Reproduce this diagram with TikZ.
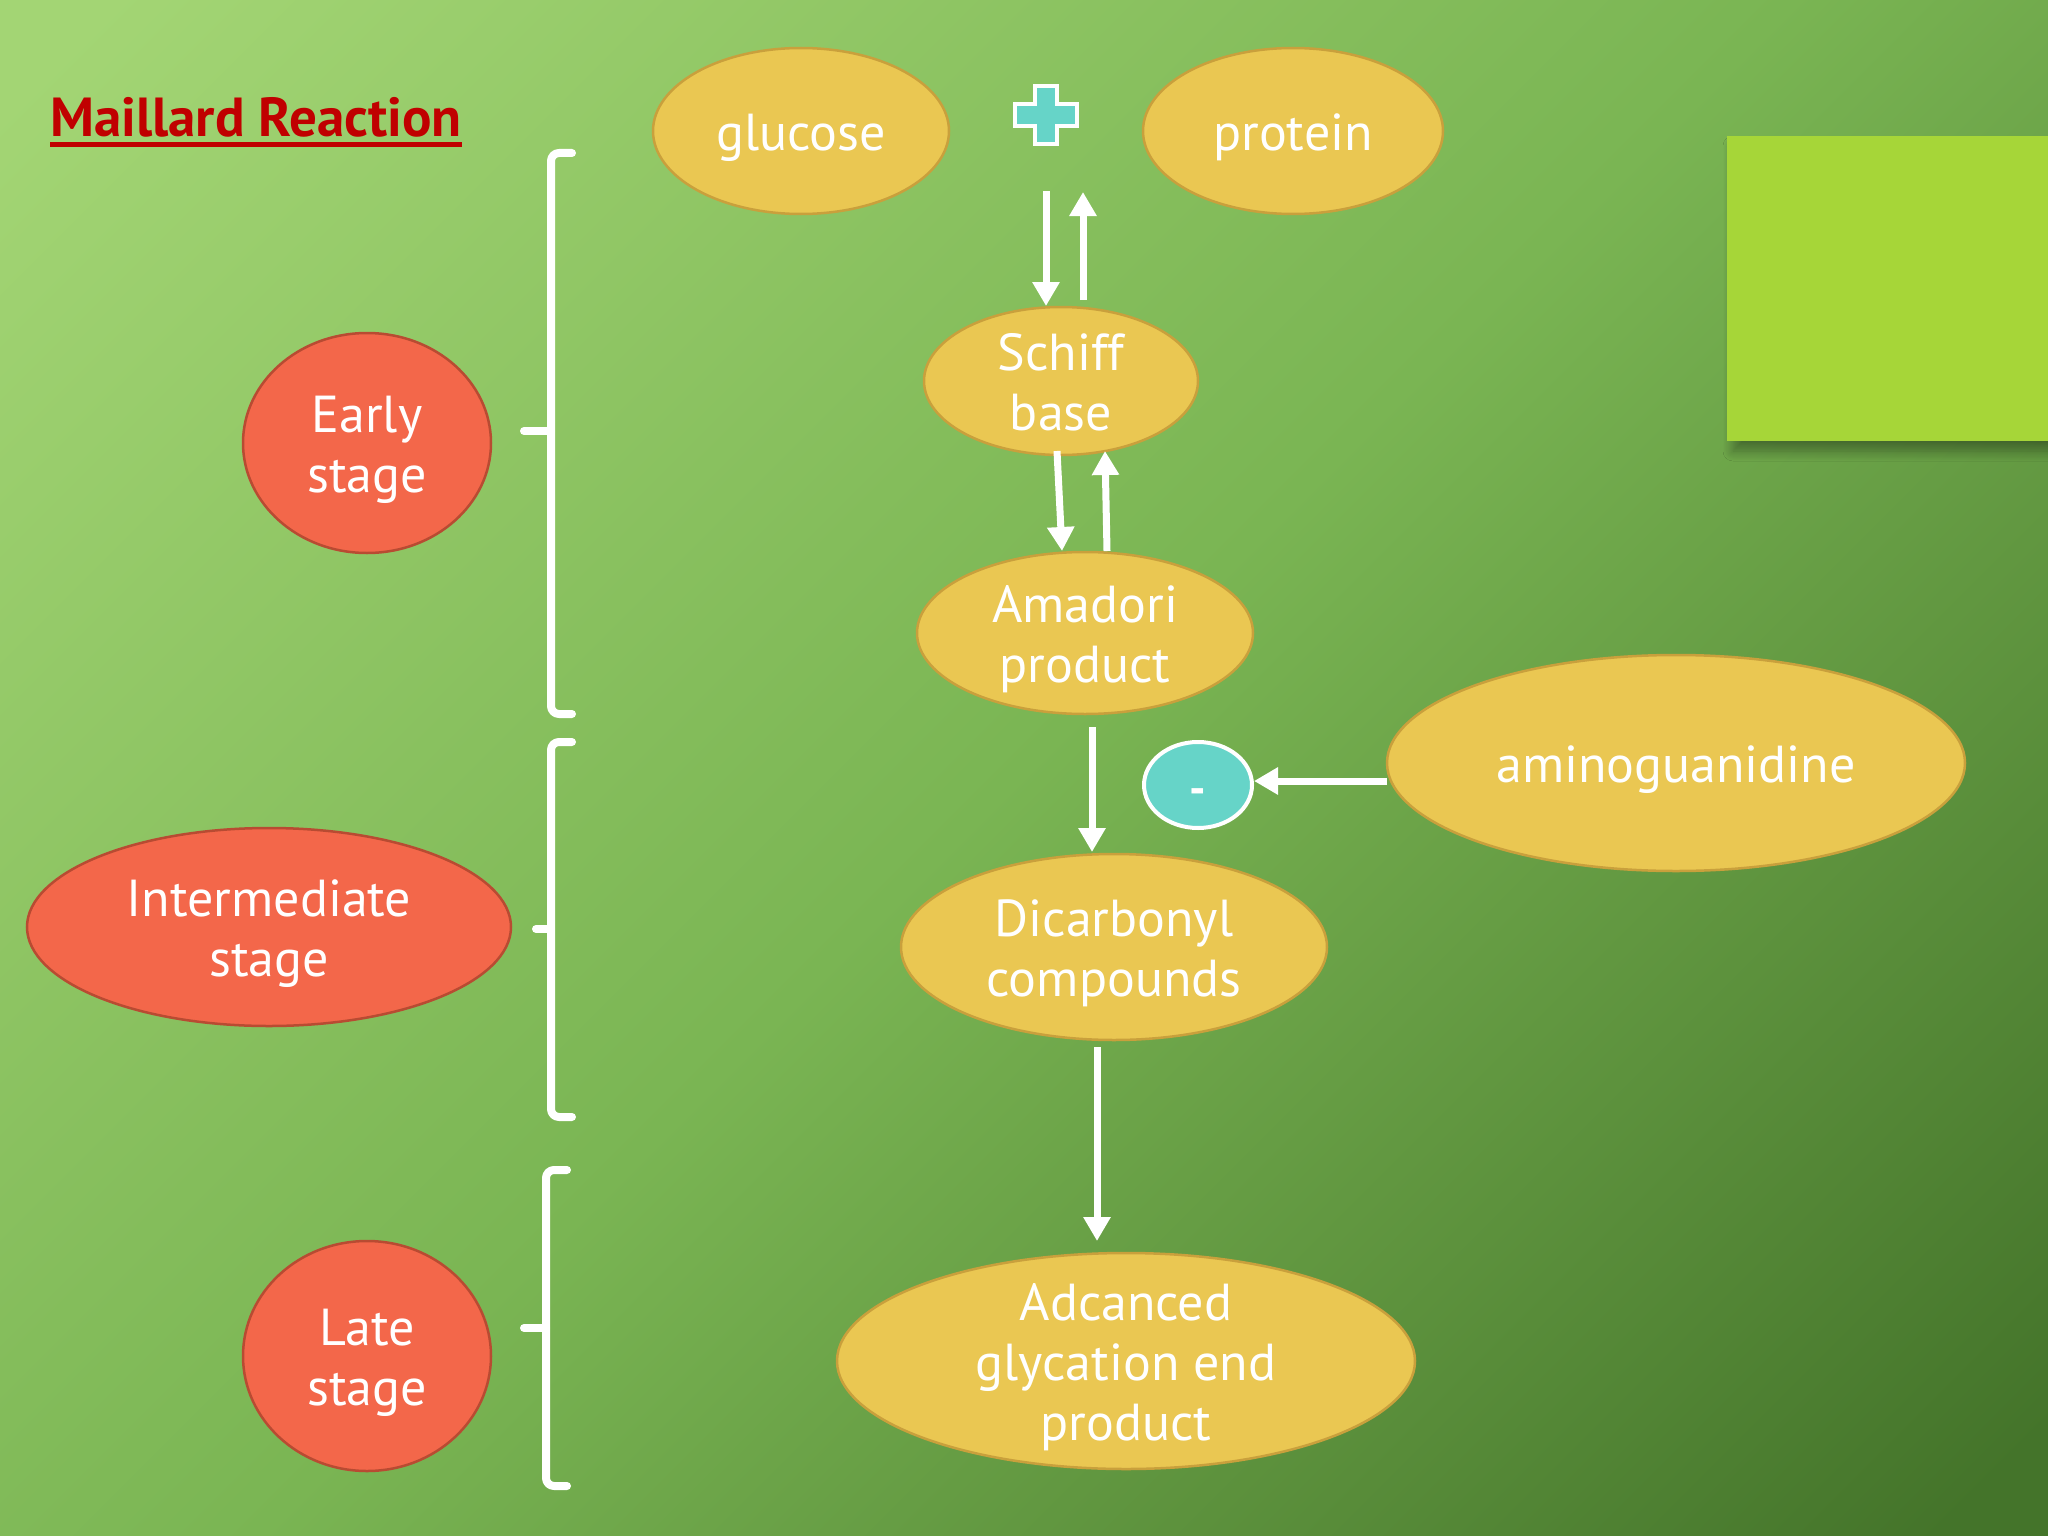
\documentclass[tikz,border=0pt]{standalone}
\usepackage{fontspec}
\setmainfont{PT Sans}
\usetikzlibrary{shapes.geometric,arrows.meta,shadows.blur}
\definecolor{bgA}{HTML}{A3D574}
\definecolor{bgM}{HTML}{7AB553}
\definecolor{bgB}{HTML}{44742A}
\definecolor{yfill}{HTML}{EAC752}
\definecolor{yline}{HTML}{C9A03C}
\definecolor{rfill}{HTML}{F3674A}
\definecolor{rline}{HTML}{B84B32}
\definecolor{tealc}{HTML}{66D4C8}
\definecolor{limebox}{HTML}{A6D638}
\definecolor{titlered}{HTML}{C00000}
\newcommand\lab[1]{\begin{tabular}{@{}c@{}}#1\end{tabular}}
\tikzset{
  ovalbase/.style={ellipse, line width=2.5pt, text=white, inner sep=0pt, text height=27pt, text depth=0pt, font=\fontsize{52}{60}\selectfont},
  yell/.style={ovalbase, fill=yfill, draw=yline},
  rell/.style={ovalbase, fill=rfill, draw=rline},
  arr/.style={draw=white, line width=7pt, -{Triangle[width=26pt,length=24pt,fill=white]}},
  bracepath/.style={draw=white, line width=8pt, line cap=round, line join=round},
}
\begin{document}
\begin{tikzpicture}[x=1pt,y=-1pt]
\useasboundingbox (0,0) rectangle (2048,1536);
\shade[top color=bgA, bottom color=bgB, middle color=bgM, shading angle=45] (-300,-300) rectangle (2348,1836);

% lime box
\fill[limebox, blur shadow={shadow xshift=6pt, shadow yshift=-10pt, shadow blur radius=10pt, shadow blur steps=10, shadow opacity=35}] (1727,136) rectangle (2060,441);

% title
\node[anchor=base west, inner sep=0pt, text=titlered, font=\fontsize{55}{60}\selectfont\bfseries] (title) at (50,137) {Maillard Reaction};
\draw[titlered, line width=5pt] ([yshift=-8pt]title.base west) -- ([yshift=-8pt]title.base east);

% yellow ellipses
\node[yell, minimum width=296pt, minimum height=166pt] (glucose) at (801,131) {\lab{glucose}};
\node[yell, minimum width=300pt, minimum height=166pt] (protein) at (1293,131) {\lab{protein}};
\node[yell, minimum width=274pt, minimum height=148pt] (schiff) at (1061,381) {\lab{Schiff\\base}};
\node[yell, minimum width=336pt, minimum height=162pt] (amadori) at (1085,633) {\lab{Amadori\\product}};
\node[yell, minimum width=578pt, minimum height=216pt] (amino) at (1676,763) {\lab{aminoguanidine}};
\node[yell, minimum width=426pt, minimum height=186pt] (dicarb) at (1114,947) {\lab{Dicarbonyl\\compounds}};
\node[yell, minimum width=578pt, minimum height=216pt] (age) at (1126,1361) {\lab{Adcanced\\glycation end\\product}};

% red ellipses
\node[rell, minimum width=248pt, minimum height=220pt] (early) at (367,443) {\lab{Early\\stage}};
\node[rell, minimum width=484pt, minimum height=198pt] (inter) at (269,927) {\lab{Intermediate\\stage}};
\node[rell, minimum width=248pt, minimum height=230pt] (late) at (367,1356) {\lab{Late\\stage}};

% minus
\node[ellipse, fill=tealc, draw=white, line width=4pt, minimum width=108pt, minimum height=86pt, inner sep=0pt, text=white, text height=38pt, text depth=0pt, font=\fontsize{46}{48}\selectfont\bfseries] (minus) at (1198,785) {-};

% plus
\node[inner sep=0pt, minimum size=1pt] (plus) at (1046,115) {};
\filldraw[fill=tealc, draw=white, line width=4pt, line join=miter]
  ([xshift=-11pt,yshift=29pt]plus.center) -- ([xshift=11pt,yshift=29pt]plus.center)
  -- ([xshift=11pt,yshift=11pt]plus.center) -- ([xshift=31pt,yshift=11pt]plus.center)
  -- ([xshift=31pt,yshift=-11pt]plus.center) -- ([xshift=11pt,yshift=-11pt]plus.center)
  -- ([xshift=11pt,yshift=-29pt]plus.center) -- ([xshift=-11pt,yshift=-29pt]plus.center)
  -- ([xshift=-11pt,yshift=-11pt]plus.center) -- ([xshift=-31pt,yshift=-11pt]plus.center)
  -- ([xshift=-31pt,yshift=11pt]plus.center) -- ([xshift=-11pt,yshift=11pt]plus.center) -- cycle;

% arrow end points
\coordinate (d1s) at (1046,191); \coordinate (d1e) at (1046,306);
\coordinate (u1s) at (1083,300); \coordinate (u1e) at (1083,192);
\coordinate (d2s) at (1057,451); \coordinate (d2e) at (1062,551);
\coordinate (u2s) at (1107,551); \coordinate (u2e) at (1105,451);
\coordinate (d3s) at (1092,727); \coordinate (d3e) at (1092,852);
\coordinate (d4s) at (1097,1047); \coordinate (d4e) at (1097,1241);
\coordinate (ams) at (1387,781);

\draw[arr] (d1s) -- (d1e);
\draw[arr] (u1s) -- (u1e);
\draw[arr] (d2s) -- (d2e);
\draw[arr] (u2s) -- (u2e);
\draw[arr] (d3s) -- (d3e);
\draw[arr] (d4s) -- (d4e);
\draw[arr] (ams) -- (ams -| minus.east);

% braces
\draw[bracepath] (572,153) -- (559,153) to[out=180,in=90] (551,161) -- (551,706) to[out=-90,in=180] (559,714) -- (572,714);
\draw[bracepath] (524,431) -- (551,431);
\draw[bracepath] (572,742) -- (559,742) to[out=180,in=90] (551,750) -- (551,1109) to[out=-90,in=180] (559,1117) -- (572,1117);
\draw[bracepath] (536,929) -- (551,929);
\draw[bracepath] (567,1170) -- (554,1170) to[out=180,in=90] (546,1178) -- (546,1478) to[out=-90,in=180] (554,1486) -- (567,1486);
\draw[bracepath] (524,1328) -- (546,1328);
\end{tikzpicture}
\end{document}
